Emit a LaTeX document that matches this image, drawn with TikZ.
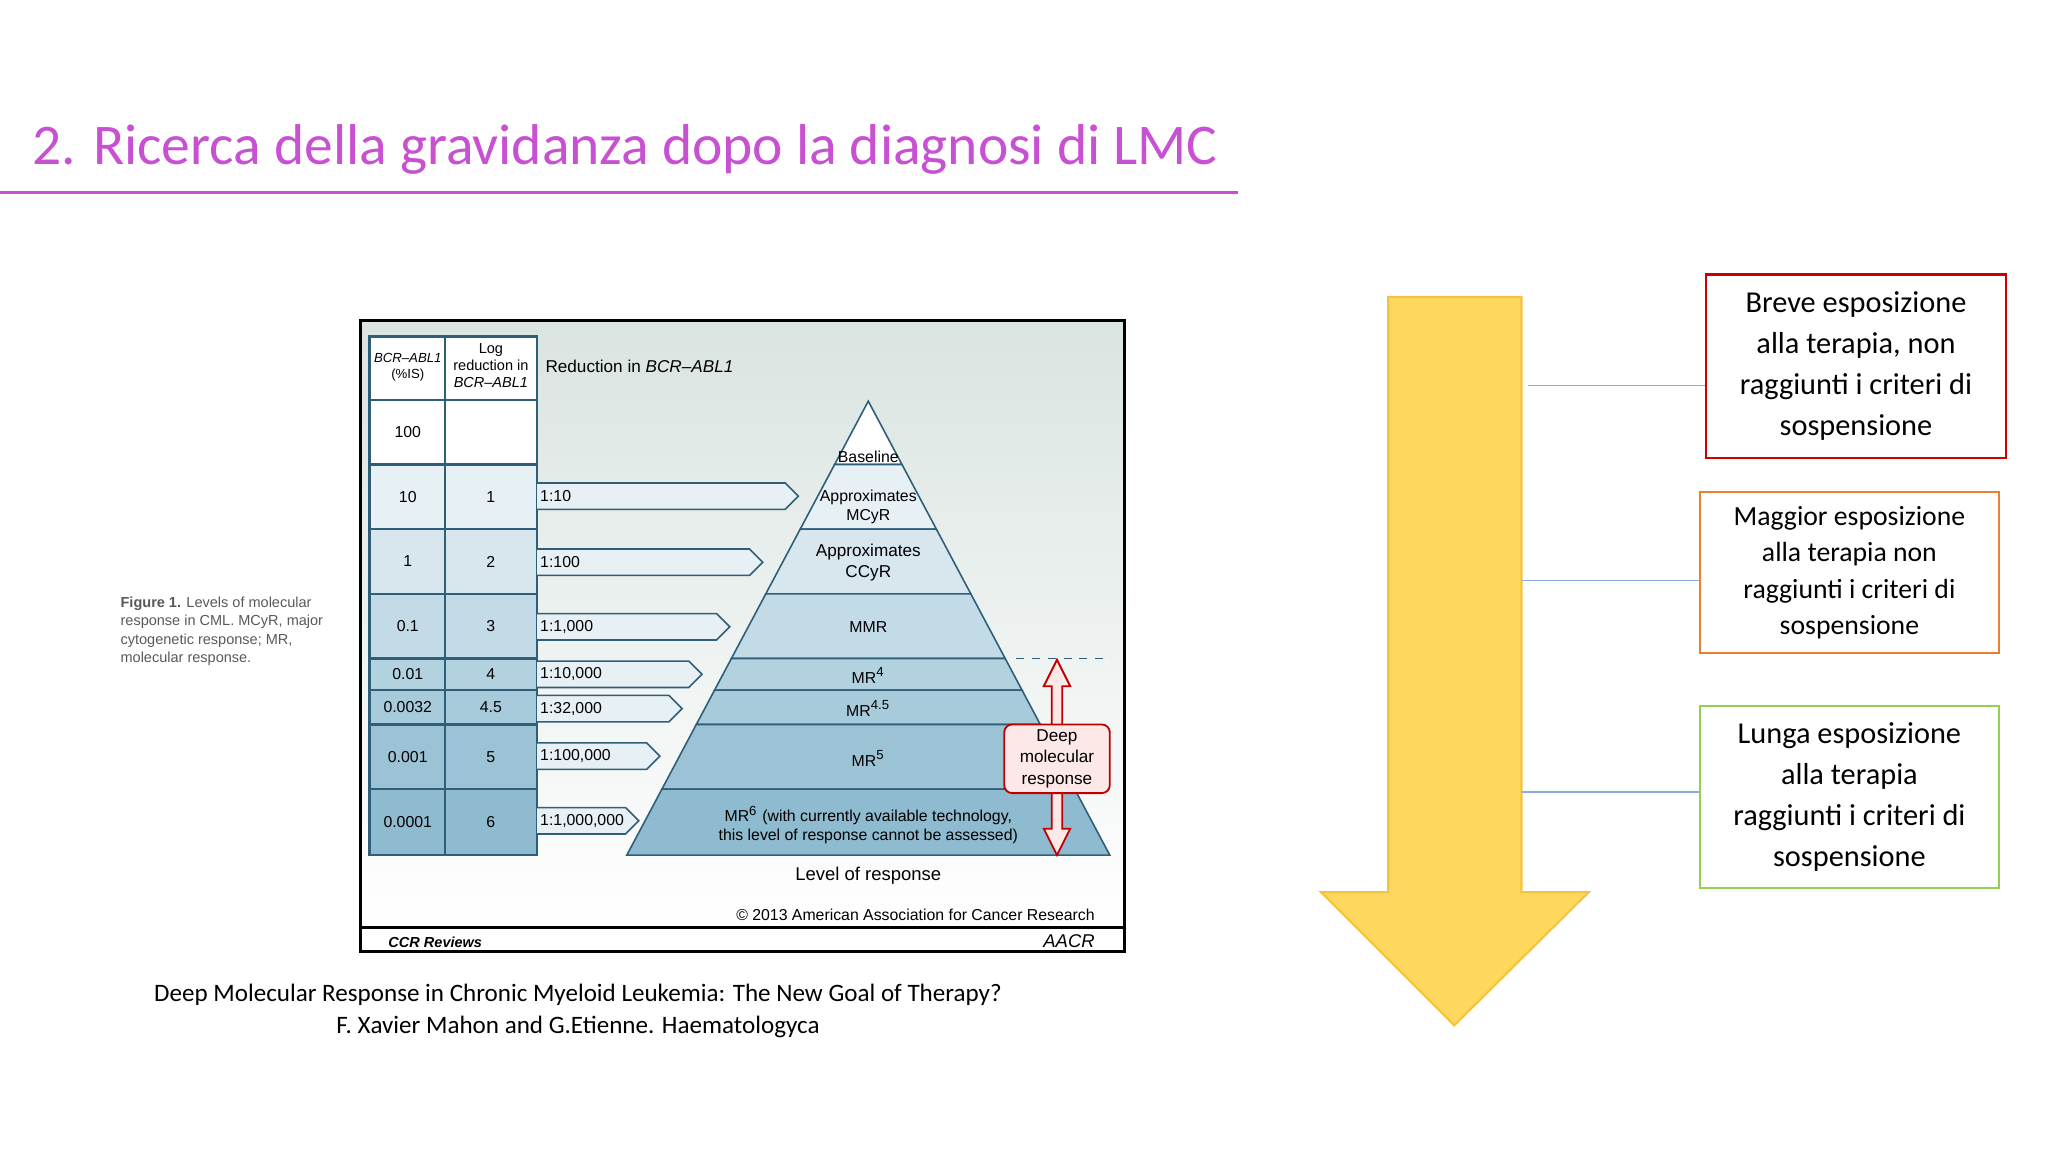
\documentclass[tikz,border=0pt]{standalone}
\usepackage{fontspec}
\setmainfont{Carlito}
\newfontfamily\figfont[Ligatures=TeX]{Liberation Sans}
\begin{document}
\begin{tikzpicture}[x=0.5pt,y=-0.5pt,
  cell/.style={draw=tblue,line width=0.8pt},
  ctext/.style={font=\figfont\fontsize{6}{7}\selectfont,inner sep=0pt,align=center},
  rarrow/.style={draw=tblue,line width=0.6pt},
  link/.style={draw=linkc,line width=0.6pt},
  sidebox/.style={line width=0.8pt,fill=white,align=center,font=\fontsize{11.5}{15.5}\selectfont,inner sep=3pt}]
\definecolor{magt}{RGB}{200,80,210}
\definecolor{tblue}{RGB}{47,95,120}
\definecolor{c0}{RGB}{255,255,255}
\definecolor{c1}{RGB}{230,240,245}
\definecolor{c2}{RGB}{216,231,238}
\definecolor{c3}{RGB}{195,219,230}
\definecolor{c4}{RGB}{179,210,223}
\definecolor{c5}{RGB}{168,203,219}
\definecolor{c6}{RGB}{156,195,213}
\definecolor{c7}{RGB}{143,187,208}
\definecolor{ylw}{RGB}{253,216,93}
\definecolor{ylwb}{RGB}{245,194,66}
\definecolor{bgtop}{RGB}{218,228,224}
\definecolor{pinkf}{RGB}{253,232,232}
\definecolor{orb}{RGB}{237,125,49}
\definecolor{grb}{RGB}{146,208,80}
\definecolor{linkc}{RGB}{143,170,220}
\useasboundingbox (0,0) rectangle (1552,873);
% title
\node[anchor=base west,text=magt,font=\fontsize{21.8}{24}\selectfont,inner sep=0pt] (title) at (24,125) {2. Ricerca della gravidanza dopo la diagnosi di LMC};
\draw[magt,line width=1pt] (0,146) -- (938,146);
% figure box
\shade[top color=bgtop,bottom color=white] (273,243) rectangle (852,703);
\fill[white] (273,703) rectangle (852,721);
\draw[line width=1pt] (273,243) rectangle (852,721);
\draw[line width=1pt] (273,703) -- (852,703);
\node[anchor=west,font=\figfont\bfseries\itshape\fontsize{5.5}{6}\selectfont,inner sep=0pt] (ccr) at (294,714) {CCR Reviews};
\node[anchor=east,font=\figfont\itshape\fontsize{7}{8}\selectfont,inner sep=0pt] (aacr) at (830,713) {AACR};
\node[anchor=east,font=\figfont\fontsize{6}{7}\selectfont,inner sep=0pt] (copy) at (830,693) {\textcopyright{} 2013 American Association for Cancer Research};
\node[font=\figfont\fontsize{7}{8}\selectfont,inner sep=0pt] (lvl) at (658,664) {Level of response};
% pyramid bands
\foreach \ya/\yb/\col in {304/352/c0,352/401/c1,401/450/c2,450/499/c3,499/523/c4,523/549/c5,549/598/c6,598/648/c7}{
  \pgfmathsetmacro{\wa}{(\ya-304)/344*183}
  \pgfmathsetmacro{\wb}{(\yb-304)/344*183}
  \filldraw[fill=\col,draw=tblue,line width=0.6pt] (658-\wa,\ya) -- (658+\wa,\ya) -- (658+\wb,\yb) -- (658-\wb,\yb) -- cycle;
}
\node[ctext] (p0) at (658,346) {Baseline};
\node[ctext] (p1) at (658,384) {Approximates\\MCyR};
\node[ctext,font=\figfont\fontsize{6.5}{8}\selectfont] (p2) at (658,426) {Approximates\\CCyR};
\node[ctext] (p3) at (658,475) {MMR};
\node[ctext] (p4) at (658,512) {MR\textsuperscript{4}};
\node[ctext] (p5) at (658,537) {MR\textsuperscript{4.5}};
\node[ctext] (p6) at (658,575) {MR\textsuperscript{5}};
\node[ctext] (p7) at (658,625) {MR\textsuperscript{6} (with currently available technology,\\this level of response cannot be assessed)};
% table
\foreach \ya/\yb/\col/\a/\b in {303/352/c0/100/,352/401/c1/10/1,401/450/c2/1/2,450/499/c3/0.1/3,499/523/c4/0.01/4,523/549/c5/0.0032/4.5,549/598/c6/0.001/5,598/648/c7/0.0001/6}{
  \filldraw[cell,fill=\col] (280,\ya) rectangle (337,\yb);
  \filldraw[cell,fill=\col] (337,\ya) rectangle (407,\yb);
  \node[ctext] at (309,{(\ya+\yb)/2}) {\a};
  \node[ctext] at (372,{(\ya+\yb)/2}) {\b};
}
\filldraw[cell,fill=white] (280,255) rectangle (337,303);
\filldraw[cell,fill=white] (337,255) rectangle (407,303);
\node[ctext,font=\figfont\fontsize{5}{6}\selectfont] (h1) at (309,278) {\textit{BCR\textendash ABL1}\\(\%IS)};
\node[ctext,font=\figfont\fontsize{5.5}{6.5}\selectfont] (h2) at (372,277) {Log\\reduction in\\\textit{BCR\textendash ABL1}};
\node[anchor=west,ctext,font=\figfont\fontsize{6.5}{7}\selectfont] (h3) at (413,278) {Reduction in \textit{BCR\textendash ABL1}};
% reduction arrows
\foreach \yc/\tip/\lab in {376/605/1:10,426/578/1:100,475/553/{1:1,000},511/532/{1:10,000},537/517/{1:32,000},573/500/{1:100,000},622/484/{1:1,000,000}}{
  \filldraw[rarrow,fill=c1] (407,\yc-10) -- (\tip-10,\yc-10) -- (\tip,\yc) -- (\tip-10,\yc+10) -- (407,\yc+10);
  \node[ctext,anchor=west] at (409,\yc) {\lab};
}
% deep molecular
\draw[tblue,dashed,line width=0.7pt] (770,499) -- (842,499);
\filldraw[fill=pinkf,draw=red!75!black,line width=0.7pt]
 (797,520) -- (797,628) -- (791,628) -- (801,648) -- (811,628) -- (805,628) -- (805,520) -- (811,520) -- (801,500) -- (791,520) -- cycle;
\node[draw=red!75!black,fill=pinkf,rounded corners=3pt,minimum width=40pt,minimum height=26pt,ctext,font=\figfont\fontsize{6.5}{8}\selectfont,line width=0.7pt] (dmr) at (801,575) {Deep\\molecular\\response};
% left caption
\node[anchor=north west,align=left,text=black!65,font=\figfont\fontsize{5.5}{7}\selectfont,inner sep=0pt] (cap) at (91,452) {\textbf{Figure 1.} Levels of molecular\\response in CML. MCyR, major\\cytogenetic response; MR,\\molecular response.};
% citation
\node[align=center,font=\fontsize{9.5}{12}\selectfont,inner sep=0pt] (cit) at (438,766) {Deep Molecular Response in Chronic Myeloid Leukemia: The New Goal of Therapy?\\F. Xavier Mahon and G.Etienne. Haematologyca};
% yellow arrow
\filldraw[fill=ylw,draw=ylwb,line width=0.8pt] (1052,225) -- (1153,225) -- (1153,676) -- (1204,676) -- (1102,777) -- (1001,676) -- (1052,676) -- cycle;
% side boxes
\node[sidebox,draw=red!80!black,minimum width=113.5pt,minimum height=69.5pt] (b1) at (1406.5,277.5) {Breve esposizione\\alla terapia, non\\raggiunti i criteri di\\sospensione};
\node[sidebox,draw=orb,minimum width=113.5pt,minimum height=61pt,font=\fontsize{10.5}{13.7}\selectfont] (b2) at (1401.5,434) {Maggior esposizione\\alla terapia non\\raggiunti i criteri di\\sospensione};
\node[sidebox,draw=grb,minimum width=113.5pt,minimum height=69pt] (b3) at (1401.5,604) {Lunga esposizione\\alla terapia\\raggiunti i criteri di\\sospensione};
\coordinate (l1) at (1158,292);
\coordinate (l2) at (1153,440);
\coordinate (l3) at (1153,600);
\draw[link] (l1) -- (l1 -| b1.west);
\draw[link] (l2) -- (l2 -| b2.west);
\draw[link] (l3) -- (l3 -| b3.west);
\end{tikzpicture}
\end{document}
